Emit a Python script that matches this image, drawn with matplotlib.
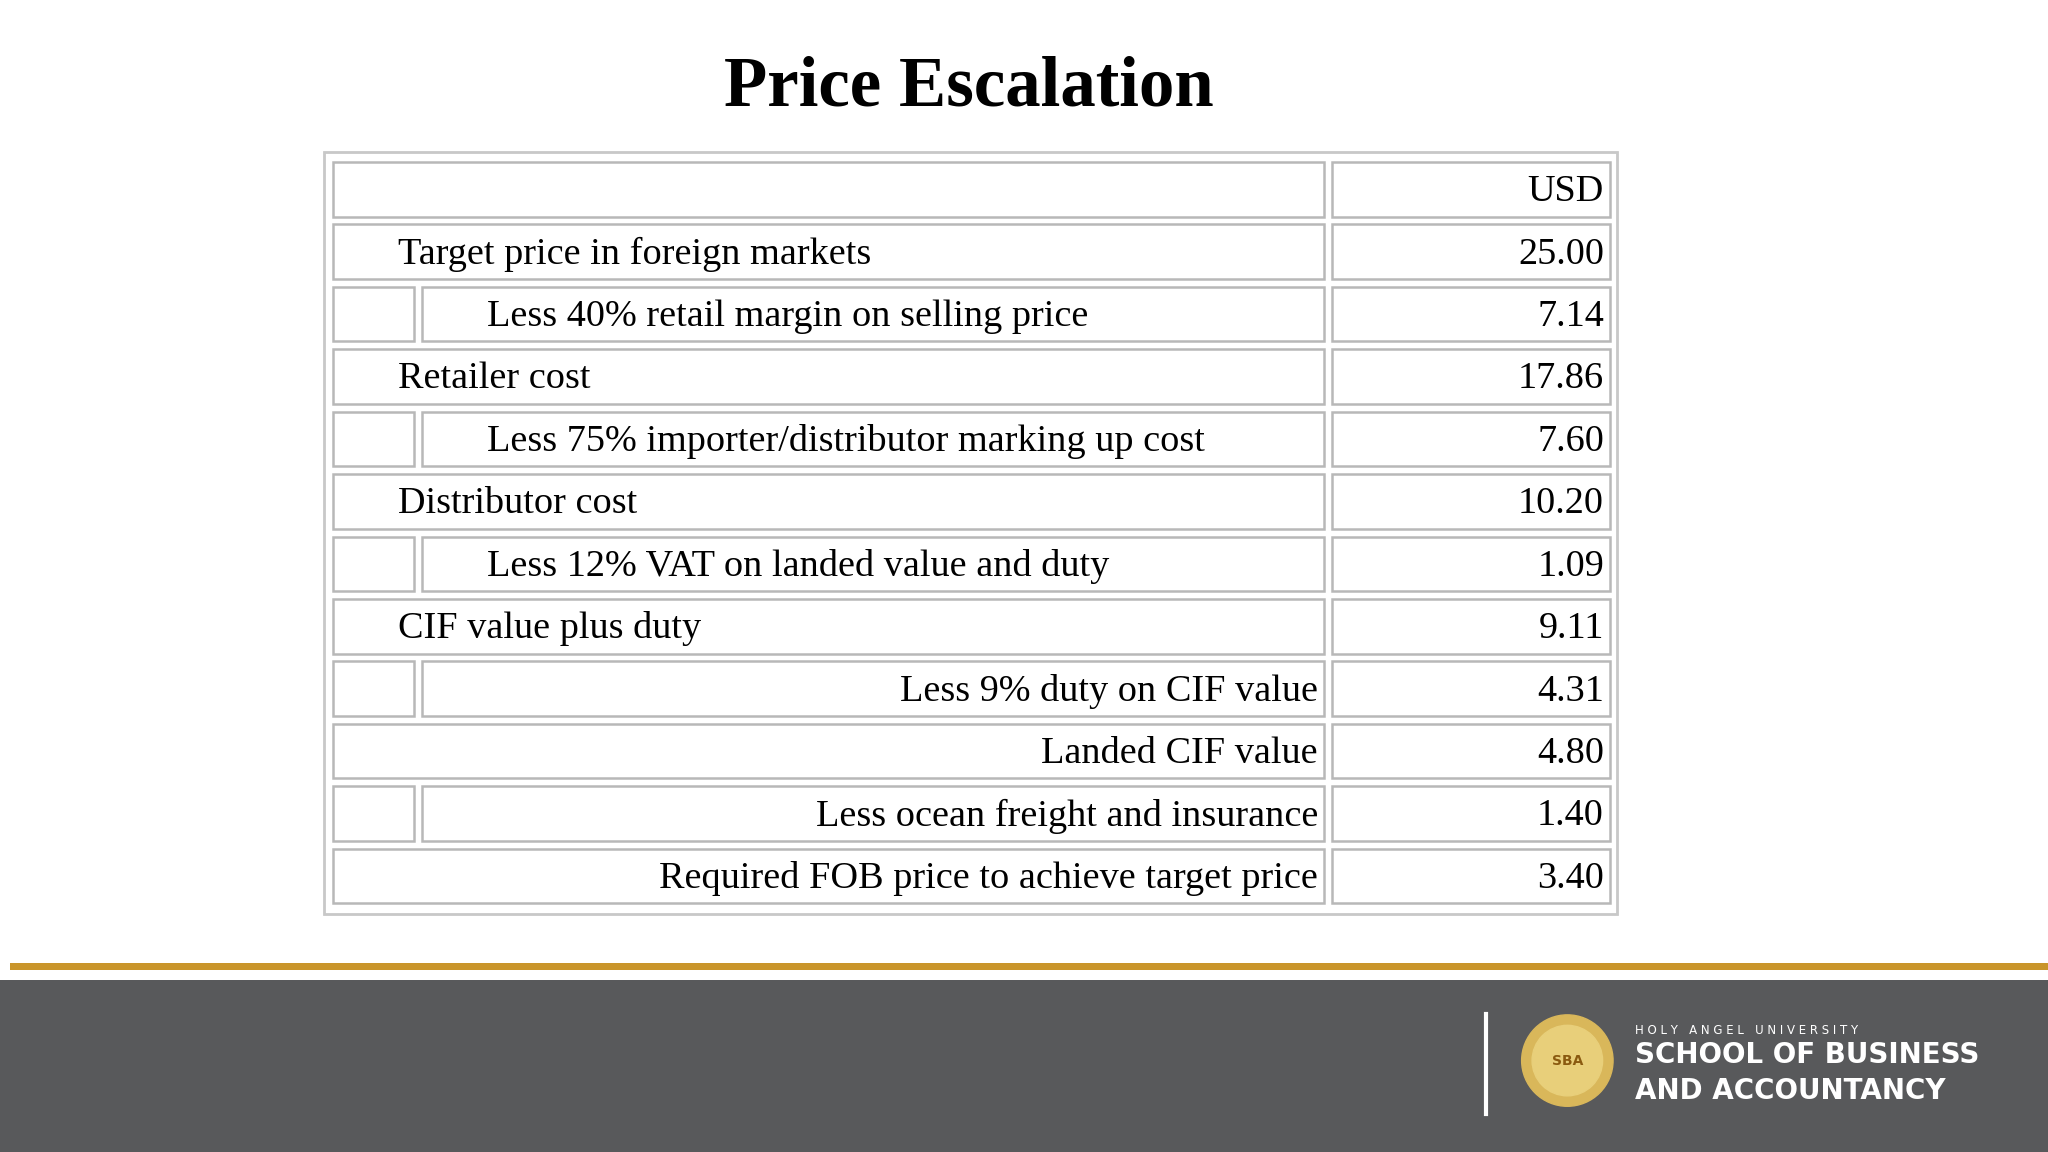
import matplotlib
matplotlib.use("Agg")
import matplotlib.pyplot as plt
from matplotlib.patches import Rectangle, Circle

labels = ["", "Target price in foreign markets", "Less 40% retail margin on selling price",
          "Retailer cost", "Less 75% importer/distributor marking up cost", "Distributor cost",
          "Less 12% VAT on landed value and duty", "CIF value plus duty", "Less 9% duty on CIF value",
          "Landed CIF value", "Less ocean freight and insurance", "Required FOB price to achieve target price"]
values = ["USD", "25.00", "7.14", "17.86", "7.60", "10.20", "1.09", "9.11", "4.31", "4.80", "1.40", "3.40"]
subcell = [False, False, True, False, True, False, True, False, True, False, True, False]
align = ["left", "left", "left", "left", "left", "left", "left", "left", "right", "right", "right", "right"]

W, H = 1568, 882
fig = plt.figure(figsize=(20.48, 11.52), dpi=100)
ax = fig.add_axes([0, 0, 1, 1])
ax.set_xlim(0, W); ax.set_ylim(H, 0); ax.axis("off")
serif = "Liberation Serif"

ax.text(742, 67, "Price Escalation", ha="center", va="center", fontsize=51,
        fontweight="bold", family=serif)

ax.add_patch(Rectangle((248, 116), 990, 584, fill=False, ec="#c8c8c8", lw=2))
y0, rh = 124, 47.8
ec = "#b8b8b8"
fs = 27.5
for i, (lab, val) in enumerate(zip(labels, values)):
    top = y0 + i * rh
    h = rh - 6
    cy = top + h / 2 + 2
    if subcell[i]:
        ax.add_patch(Rectangle((255, top), 62, h, fill=False, ec=ec, lw=1.8))
        ax.add_patch(Rectangle((323, top), 691, h, fill=False, ec=ec, lw=1.8))
    else:
        ax.add_patch(Rectangle((255, top), 759, h, fill=False, ec=ec, lw=1.8))
    ax.add_patch(Rectangle((1020, top), 213, h, fill=False, ec=ec, lw=1.8))
    if lab:
        if align[i] == "right":
            ax.text(1009, cy, lab, ha="right", va="center", fontsize=fs, family=serif)
        else:
            x = 373 if subcell[i] else 305
            ax.text(x, cy, lab, ha="left", va="center", fontsize=fs, family=serif)
    ax.text(1228, cy, val, ha="right", va="center", fontsize=fs, family=serif)

ax.add_patch(Rectangle((8, 737), W, 6, color="#c9952b", lw=0))
ax.add_patch(Rectangle((0, 750), W, 132, color="#58595b", lw=0))
ax.plot([1138, 1138], [776, 853], color="white", lw=3)
ax.add_patch(Circle((1200, 812), 35, color="#d9b75a"))
ax.add_patch(Circle((1200, 812), 27, color="#e8cf7a"))
ax.text(1200, 812, "SBA", ha="center", va="center", fontsize=10, color="#8a5a10", fontweight="bold")
ax.text(1252, 789, "H O L Y   A N G E L   U N I V E R S I T Y", ha="left", va="center",
        fontsize=8.5, color="white", family="DejaVu Sans")
ax.text(1252, 808, "SCHOOL OF BUSINESS", ha="left", va="center", fontsize=20,
        color="white", fontweight="bold", family="DejaVu Sans")
ax.text(1252, 835, "AND ACCOUNTANCY", ha="left", va="center", fontsize=20,
        color="white", fontweight="bold", family="DejaVu Sans")

fig.savefig("out.png", dpi=100)
